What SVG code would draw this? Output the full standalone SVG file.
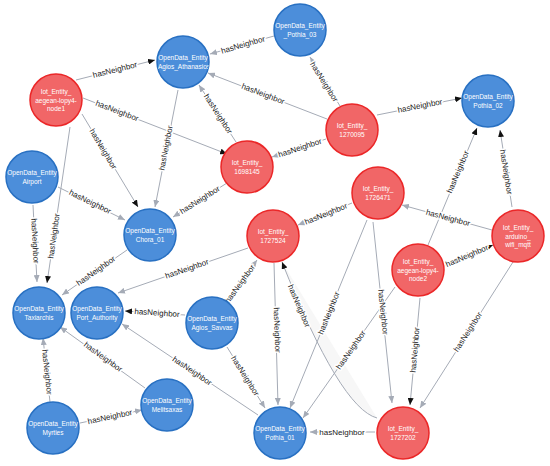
<svg xmlns="http://www.w3.org/2000/svg" width="550" height="466" viewBox="0 0 550 466">
<defs>
<style>
.e{stroke:#A5ABB6;stroke-width:1;fill:none}
.g{marker-end:url(#ag)}
.b{marker-end:url(#ab)}
.l{font-family:"Liberation Sans",Arial,sans-serif;font-size:8px;fill:#222;text-anchor:middle;dominant-baseline:central;stroke:#fff;stroke-width:3;paint-order:stroke;stroke-linejoin:round}
.nb circle{fill:#4C8EDA;stroke:#2870C2;stroke-width:1.5}
.nr circle{fill:#F16667;stroke:#EB2728;stroke-width:1.5}
.nt{font-family:"Liberation Sans",Arial,sans-serif;font-size:6.5px;fill:#fff;text-anchor:middle;dominant-baseline:central}
</style>
<marker id="ag" markerUnits="userSpaceOnUse" markerWidth="8" markerHeight="6" refX="7" refY="3" orient="auto"><path d="M0,0 L7,3 L0,6 z" fill="#A5ABB6"/></marker>
<marker id="ab" markerUnits="userSpaceOnUse" markerWidth="8" markerHeight="6" refX="7" refY="3" orient="auto-start-reverse"><path d="M0,0 L7,3 L0,6 z" fill="#111"/></marker>
<clipPath id="clipAth"><circle cx="183" cy="62" r="26"/></clipPath>
</defs>
<rect width="550" height="466" fill="#fff"/>
<g id="connectors">
<path class="e b" d="M76,80 L155,60"/>
<path class="e g" d="M274,36 L210,54"/>
<path class="e g" d="M327,119 L208,73"/>
<path class="e g" d="M340,106 L310,57"/>
<path class="e b" d="M377,115 L462,98"/>
<path class="e g" d="M326,139 L272,157"/>
<path class="e g" d="M236,142 L199,85"/>
<path class="e b" d="M83,98 L227,154"/>
<path class="e g" d="M178,90 L155,207"/>
<path class="e b" d="M82,114 L138,207"/>
<path class="e g" d="M227,183 L173,217"/>
<path class="e g" d="M58,187 L125,220"/>
<path class="e g" d="M33,205 L37,282"/>
<path class="e b" d="M70,127 L47,283"/>
<path class="e g" d="M127,250 L62,295"/>
<path class="e g" d="M248,248 L118,293"/>
<path class="e g" d="M352,203 L298,225"/>
<path class="e g" d="M223,307 L257,260"/>
<path class="e g" d="M274,263 L278,405"/>
<path d="M282,262 Q340,408 377,418" fill="#f7f7f7" stroke="#A5ABB6" stroke-width="1" marker-start="url(#ab)"/>
<path class="e g" d="M367,220 L290,408"/>
<path class="e g" d="M373,222 L392,403"/>
<path class="e g" d="M395,287 L303,418"/>
<path class="e b" d="M420,298 L410,405"/>
<path class="e g" d="M513,262 L420,408"/>
<path class="e g" d="M492,230 L402,205"/>
<path class="e b" d="M445,265 L493,245"/>
<path class="e b" d="M428,245 L477,128"/>
<path class="e b" d="M512,207 L500,130"/>
<path class="e b" d="M185,315 L125,311"/>
<path class="e g" d="M227,347 L265,408"/>
<path class="e g" d="M258,415 L122,324"/>
<path class="e g" d="M145,388 L60,327"/>
<path class="e g" d="M50,402 L43,338"/>
<path class="e g" d="M80,423 L142,410"/>
<path class="e g" d="M375,432 L310,432"/>
<text class="l" transform="translate(115,70) rotate(-14)">hasNeighbor</text>
<text class="l" transform="translate(243,45) rotate(-16)">hasNeighbor</text>
<text class="l" transform="translate(263,94) rotate(21)">hasNeighbor</text>
<text class="l" transform="translate(324,82) rotate(58)">hasNeighbor</text>
<text class="l" transform="translate(420,106) rotate(-11)">hasNeighbor</text>
<text class="l" transform="translate(300,148) rotate(-18)">hasNeighbor</text>
<text class="l" transform="translate(218,114) rotate(57)">hasNeighbor</text>
<text class="l" transform="translate(117,111) rotate(21)">hasNeighbor</text>
<text class="l" transform="translate(166,148) rotate(-79)">hasNeighbor</text>
<text class="l" transform="translate(103,149) rotate(59)">hasNeighbor</text>
<text class="l" transform="translate(200,200) rotate(-32)">hasNeighbor</text>
<text class="l" transform="translate(90,202) rotate(26)">hasNeighbor</text>
<text class="l" transform="translate(35,241) rotate(87)">hasNeighbor</text>
<text class="l" transform="translate(54,236) rotate(-82)">hasNeighbor</text>
<text class="l" transform="translate(96,271) rotate(-35)">hasNeighbor</text>
<text class="l" transform="translate(187,269) rotate(-19)">hasNeighbor</text>
<text class="l" transform="translate(326,214) rotate(-22)">hasNeighbor</text>
<text class="l" transform="translate(240,284) rotate(-54)">hasNeighbor</text>
<text class="l" transform="translate(277,330) rotate(88)">hasNeighbor</text>
<text class="l" transform="translate(299,306) rotate(67)">hasNeighbor</text>
<text class="l" transform="translate(329,313) rotate(-68)">hasNeighbor</text>
<text class="l" transform="translate(383,312) rotate(84)">hasNeighbor</text>
<text class="l" transform="translate(351,350) rotate(-55)">hasNeighbor</text>
<text class="l" transform="translate(415,350) rotate(-85)">hasNeighbor</text>
<text class="l" transform="translate(468,332) rotate(-57)">hasNeighbor</text>
<text class="l" transform="translate(448,218) rotate(15)">hasNeighbor</text>
<text class="l" transform="translate(467,256) rotate(-23)">hasNeighbor</text>
<text class="l" transform="translate(458,172) rotate(-67)">hasNeighbor</text>
<text class="l" transform="translate(506,172) rotate(81)">hasNeighbor</text>
<text class="l" transform="translate(157,313) rotate(4)">hasNeighbor</text>
<text class="l" transform="translate(245,376) rotate(58)">hasNeighbor</text>
<text class="l" transform="translate(192,371) rotate(34)">hasNeighbor</text>
<text class="l" transform="translate(103,357) rotate(36)">hasNeighbor</text>
<text class="l" transform="translate(47,372) rotate(84)">hasNeighbor</text>
<text class="l" transform="translate(110,417) rotate(-12)">hasNeighbor</text>
<text class="l" transform="translate(342,432)">hasNeighbor</text>
</g>
<g id="n_agios_athanasios" class="nb"><circle cx="183" cy="62" r="26"/><g clip-path="url(#clipAth)"><text class="nt" x="183" y="57.5">OpenData_Entity</text><text class="nt" x="184" y="66.5">Agios_Athanasios</text></g></g>
<g id="n_pothia_03" class="nb"><circle cx="300" cy="30" r="26"/><text class="nt" x="300" y="25.5">OpenData_Entity</text><text class="nt" x="300" y="34.5">_Pothia_03</text></g>
<g id="n_node1" class="nr"><circle cx="56" cy="100" r="26"/><text class="nt" x="56" y="91.5">Iot_Entity_</text><text class="nt" x="56" y="100">aegean-lopy4-</text><text class="nt" x="56" y="108.5">node1</text></g>
<g id="n_1270095" class="nr"><circle cx="352" cy="130" r="26"/><text class="nt" x="352" y="125.5">Iot_Entity_</text><text class="nt" x="352" y="134.5">1270095</text></g>
<g id="n_pothia_02" class="nb"><circle cx="488" cy="101" r="26"/><text class="nt" x="488" y="96.5">OpenData_Entity</text><text class="nt" x="488" y="105.5">Pothia_02</text></g>
<g id="n_1698145" class="nr"><circle cx="247" cy="167" r="26"/><text class="nt" x="247" y="162.5">Iot_Entity_</text><text class="nt" x="247" y="171.5">1698145</text></g>
<g id="n_airport" class="nb"><circle cx="32" cy="177" r="26"/><text class="nt" x="32" y="172.5">OpenData_Entity</text><text class="nt" x="32" y="181.5">Airport</text></g>
<g id="n_chora_01" class="nb"><circle cx="150" cy="235" r="26"/><text class="nt" x="150" y="230.5">OpenData_Entity</text><text class="nt" x="150" y="239.5">Chora_01</text></g>
<g id="n_1727524" class="nr"><circle cx="273" cy="236" r="26"/><text class="nt" x="273" y="231.5">Iot_Entity_</text><text class="nt" x="273" y="240.5">1727524</text></g>
<g id="n_1726471" class="nr"><circle cx="378" cy="193" r="26"/><text class="nt" x="378" y="188.5">Iot_Entity_</text><text class="nt" x="378" y="197.5">1726471</text></g>
<g id="n_arduino" class="nr"><circle cx="518" cy="236" r="26"/><text class="nt" x="518" y="227.5">Iot_Entity_</text><text class="nt" x="518" y="236">arduino_</text><text class="nt" x="518" y="244.5">wifi_mqtt</text></g>
<g id="n_node2" class="nr"><circle cx="418" cy="270" r="26"/><text class="nt" x="418" y="261.5">Iot_Entity_</text><text class="nt" x="418" y="270">aegean-lopy4-</text><text class="nt" x="418" y="278.5">node2</text></g>
<g id="n_taxiarchis" class="nb"><circle cx="39" cy="313" r="26"/><text class="nt" x="39" y="308.5">OpenData_Entity</text><text class="nt" x="39" y="317.5">Taxiarchis</text></g>
<g id="n_port_authority" class="nb"><circle cx="97" cy="313" r="26"/><text class="nt" x="97" y="308.5">OpenData_Entity</text><text class="nt" x="97" y="317.5">Port_Authority</text></g>
<g id="n_agios_savvas" class="nb"><circle cx="212" cy="323" r="26"/><text class="nt" x="212" y="318.5">OpenData_Entity</text><text class="nt" x="212" y="327.5">Agios_Savvas</text></g>
<g id="n_melitsaxas" class="nb"><circle cx="167" cy="405" r="26"/><text class="nt" x="167" y="400.5">OpenData_Entity</text><text class="nt" x="167" y="409.5">Melitsaxas</text></g>
<g id="n_myrties" class="nb"><circle cx="53" cy="428" r="26"/><text class="nt" x="53" y="423.5">OpenData_Entity</text><text class="nt" x="53" y="432.5">Myrties</text></g>
<g id="n_pothia_01" class="nb"><circle cx="280" cy="433" r="26"/><text class="nt" x="280" y="428.5">OpenData_Entity</text><text class="nt" x="280" y="437.5">Pothia_01</text></g>
<g id="n_1727202" class="nr"><circle cx="403" cy="433" r="26"/><text class="nt" x="403" y="428.5">Iot_Entity_</text><text class="nt" x="403" y="437.5">1727202</text></g>
</svg>
